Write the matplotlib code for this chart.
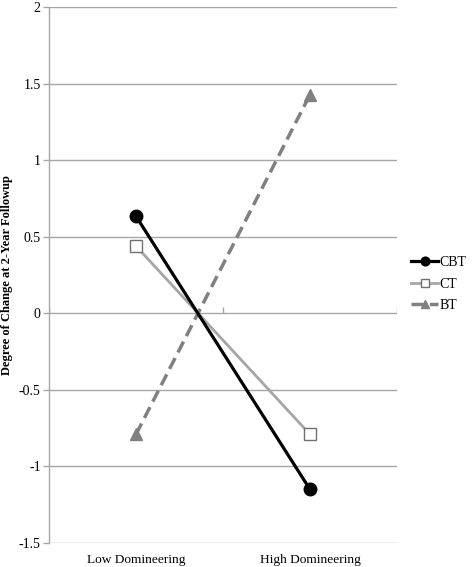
import matplotlib
matplotlib.use("Agg")
import matplotlib.pyplot as plt
import numpy as np

categories = ["Low Domineering", "High Domineering"]
cbt = [0.635, -1.15]
ct = [0.44, -0.79]
bt = [-0.79, 1.43]
yticks = [-1.5, -1, -0.5, 0, 0.5, 1, 1.5, 2]
ytick_labels = ["-1.5", "-1", "-0.5", "0", "0.5", "1", "1.5", "2"]

plt.rcParams['font.family'] = ['Liberation Serif', 'DejaVu Serif']

fig = plt.figure(figsize=(4.74, 5.67), dpi=100)
ax = fig.add_axes([0.1034, 0.0423, 0.8376 - 0.1034, 0.987 - 0.0423])

x = np.arange(len(categories))
grid_c = "#a6a6a6"

ax.set_ylim(-1.5, 2)
ax.set_xlim(-0.5, len(categories) - 0.5)
for yv in yticks:
    ax.axhline(yv, color=grid_c, lw=1.0, zorder=1)

# category-axis tick marks on zero line
bounds = np.arange(len(categories) + 1) - 0.5
ax.vlines(bounds, 0, 0.04, color=grid_c, lw=1.0, zorder=1)

ax.plot(x, bt, color="#808080", lw=2.5, ls=(0, (3.5, 1.8)), marker="^", ms=9,
        mfc="#808080", mec="#808080", label="BT", zorder=3)
ax.plot(x, ct, color="#a6a6a6", lw=2.0, marker="s", ms=9,
        mfc="white", mec="#707070", mew=1.0, label="CT", zorder=4)
ax.plot(x, cbt, color="black", lw=2.3, marker="o", ms=9,
        mfc="black", mec="black", label="CBT", zorder=5)

ax.set_yticks(yticks)
ax.set_yticklabels(ytick_labels, fontsize=10)
ax.set_xticks(x)
ax.set_xticklabels(categories, fontsize=9.6)
ax.tick_params(axis='x', length=0, pad=8)
ax.tick_params(axis='y', length=4, width=1.0, color=grid_c, pad=2)

for s in ["top", "right", "bottom"]:
    ax.spines[s].set_visible(False)
ax.spines["left"].set_color(grid_c)
ax.spines["left"].set_linewidth(1.0)

ax.set_ylabel("Degree of Change at 2-Year Followup", fontsize=9, fontweight="bold", labelpad=4)

h, l = ax.get_legend_handles_labels()
order = [2, 1, 0]
fig.legend([h[i] for i in order], [l[i] for i in order], loc="center left",
           bbox_to_anchor=(0.868, 0.499), frameon=False, fontsize=10,
           handlelength=1.9, handletextpad=0.1, labelspacing=0.6, markerscale=0.7,
           borderpad=0, borderaxespad=0)

fig.savefig("out.png", dpi=100)
